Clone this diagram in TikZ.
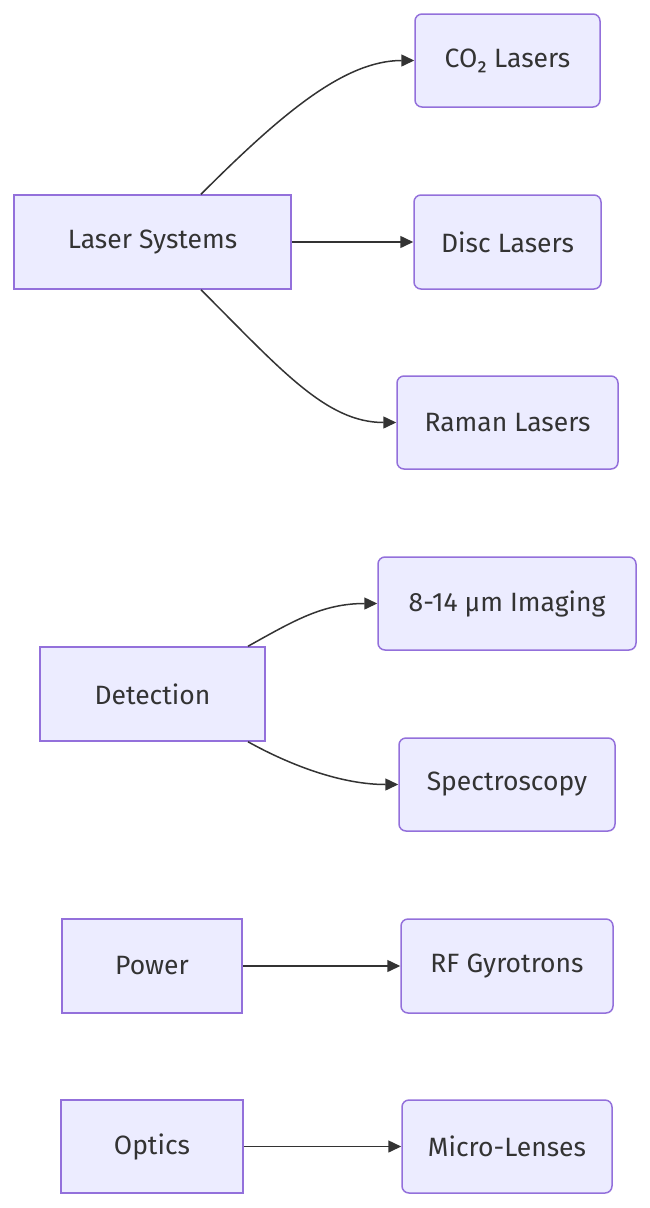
\documentclass[tikz,border=0pt]{standalone}
\usepackage{fontspec}
\setmainfont{Fira Sans}
\usetikzlibrary{arrows.meta}
\definecolor{nodefill}{HTML}{ECECFF}
\definecolor{nodeline}{HTML}{9370DB}
\definecolor{txt}{HTML}{333333}
\definecolor{edge}{HTML}{333333}
\tikzset{
  base/.style={draw=nodeline, fill=nodefill, line width=1.5pt, text=txt,
    font=\fontsize{26.5}{31}\selectfont, inner sep=0pt, anchor=center},
  sqbox/.style={base},
  rbox/.style={base, rounded corners=7pt},
  conn/.style={draw=edge, line width=1.5pt, -{Triangle[length=13pt,width=12pt]}},
}
\begin{document}
\begin{tikzpicture}[x=1pt,y=-1pt]
\useasboundingbox (0,0) rectangle (650,1208);
% left nodes
\node[sqbox, minimum width=277pt, minimum height=94pt] (ls) at (152.5,242) {Laser Systems};
\node[sqbox, minimum width=225pt, minimum height=94pt] (det) at (152.5,694) {Detection};
\node[sqbox, minimum width=180pt, minimum height=94pt] (pow) at (152,966) {Power};
\node[sqbox, minimum width=182pt, minimum height=93pt] (opt) at (152,1146.5) {Optics};
% right nodes
\node[rbox, minimum width=185pt, minimum height=93pt] (co2) at (507.5,60.5) {CO₂ Lasers};
\node[rbox, minimum width=187pt, minimum height=94pt] (disc) at (507.5,242) {Disc Lasers};
\node[rbox, minimum width=221pt, minimum height=93pt] (ram) at (507.5,422.5) {Raman Lasers};
\node[rbox, minimum width=258pt, minimum height=93pt] (img) at (507,603.5) {8-14 µm Imaging};
\node[rbox, minimum width=216pt, minimum height=93pt] (spec) at (507,784.5) {Spectroscopy};
\node[rbox, minimum width=212pt, minimum height=94pt] (rf) at (507,966) {RF Gyrotrons};
\node[rbox, minimum width=210pt, minimum height=93pt] (ml) at (507,1146.5) {Micro-Lenses};
% connectors
\draw[conn] ([xshift=48.5pt]ls.north) .. controls +(80,-80) and +(-70,0) .. (co2.west);
\draw[conn] (ls.east) -- (disc.west);
\draw[conn] ([xshift=48.5pt]ls.south) .. controls +(80,80) and +(-70,0) .. (ram.west);
\draw[conn] ([xshift=95.5pt]det.north) .. controls +(45,-25) and +(-55,0) .. (img.west);
\draw[conn] ([xshift=95.5pt]det.south) .. controls +(45,25) and +(-55,0) .. (spec.west);
\draw[conn] (pow.east) -- (rf.west);
\draw[conn] (opt.east) -- (ml.west);
\end{tikzpicture}
\end{document}
